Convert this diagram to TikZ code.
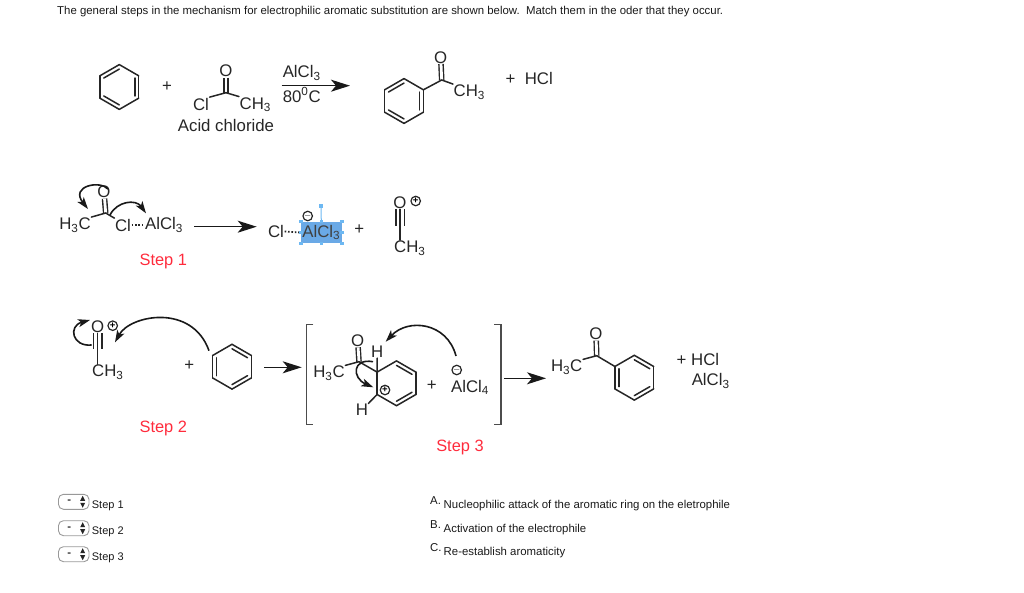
\documentclass[tikz,border=0pt]{standalone}
\usepackage{fontspec}
\setmainfont{Liberation Sans}
\usetikzlibrary{arrows.meta,calc}

\newcommand{\chemfont}{\fontsize{16.8}{18}\selectfont}
\newcommand{\smallfont}{\fontsize{11.4}{13}\selectfont}
\newcommand{\sbs}[1]{\textsubscript{#1}}
\definecolor{stepred}{HTML}{FF2B3C}
\definecolor{selblue}{HTML}{6AA9E6}
\definecolor{handleblue}{HTML}{6DB8F2}

\tikzset{
  bond/.style={line width=1.5pt, line cap=round, draw=black!85},
  dbl/.style={line width=1.4pt, draw=black!85, double=white, double distance=2.8pt},
  trpl/.style={line width=1.3pt, draw=black!85, double=white, double distance=7pt},
  rxn/.style={line width=1.5pt, draw=black!90, -{Stealth[length=19pt,width=12pt,inset=5pt]}},
  curly/.style={line width=1.6pt, draw=black!90, -{Stealth[length=12pt,width=8pt,inset=3pt]}},
  dots/.style={line width=1.8pt, draw=black!85, dash pattern=on 1.6pt off 1.8pt},
  atom/.style={inner sep=.5pt, font=\chemfont, text=black!85},
  charge/.style={circle, draw=black!85, line width=1.2pt, inner sep=0pt, minimum size=9.5pt, font=\fontsize{9.5}{9.5}\selectfont\bfseries},
  steplbl/.style={inner sep=0pt, font=\fontsize{16.4}{18}\selectfont, text=stepred},
  plain/.style={inner sep=0pt, anchor=west, font=\smallfont, text=black!90},
  handle/.style={fill=handleblue, minimum size=3.5pt, inner sep=0pt},
  selbox/.style={draw=black!40, line width=.9pt, rounded corners=5pt, minimum width=30.5pt, minimum height=15pt, inner sep=0pt},
}

% ring at a centre, the last argument lists the inner lines
\newcommand{\ringat}[3]{
  \coordinate (#1) at (#2);
  \foreach \a in {30,90,150,210,270,330} \coordinate (#1-\a) at ($(#1)+(\a:22.4)$);
  \foreach \a/\b in {30/90,90/150,150/210,210/270,270/330,330/30} \draw[bond] (#1-\a) -- (#1-\b);
  \foreach \a/\b in {#3} \draw[bond] ($(#1)!.8!(#1-\a)$) -- ($(#1)!.8!(#1-\b)$);
}

\begin{document}
\begin{tikzpicture}[x=1pt, y=-1pt]
\useasboundingbox (0,0) rectangle (1024,593);

\node[plain] (title) at (57,12) {The general steps in the mechanism for electrophilic aromatic substitution are shown below.\ \ Match them in the oder that they occur.};

% overall reaction
\ringat{bza}{119.3,87}{90/150,210/270,330/30}
\node[atom] (plusa) at (167,87) {+};
\coordinate (ca) at (226,92.7);
\node[atom] (oa) at (226,71) {O};
\node[atom] (cla) at (201,104) {Cl};
\node[atom, anchor=west] (mea) at (239,104.5) {CH\sbs{3}};
\draw[dbl] (oa) -- (ca);
\draw[bond] (cla.north east) -- (ca);
\draw[bond] (ca) -- (mea.north west);
\node[atom] (acid) at (226,125) {Acid chloride};
\node[atom] (cata) at (301.7,73) {AlCl\sbs{3}};
\node[atom] (temp) at (301.7,95) {80\textsuperscript{0}C};
\coordinate (ra1) at (281.7,85.7);
\coordinate (ra2) at (350,85.7);
\draw[rxn] (ra1) -- (ra2);
\ringat{bzb}{404,101}{90/150,210/270,330/30}
\coordinate (cb) at (441.7,80);
\node[atom] (ob) at (440.7,57.3) {O};
\node[atom, anchor=west] (meb) at (453,92) {CH\sbs{3}};
\draw[dbl] (ob) -- (cb);
\draw[bond] (bzb-330) -- (cb);
\draw[bond] (cb) -- (meb.north west);
\node[atom, anchor=west] (hcla) at (505,78) {+\ \ HCl};

% step 1
\coordinate (cc) at (105.7,213);
\node[atom] (oc) at (104,192) {O};
\node[atom] (mec) at (75,225) {H\sbs{3}C};
\node[atom] (clc) at (123,225) {Cl};
\node[atom] (alc) at (164,225) {AlCl\sbs{3}};
\draw[dbl] (oc) -- (cc);
\draw[bond] (mec.north east) -- (cc);
\draw[bond] (cc) -- (clc.north west);
\draw[dots] (clc) -- (alc);
\coordinate (c1s) at (108,189);
\coordinate (c1e) at (88,209);
\draw[curly] (c1s) .. controls (100,180) and (70,186) .. (c1e);
\coordinate (c2s) at (110,215);
\coordinate (c2e) at (146,213.3);
\draw[curly] (c2s) .. controls (117,201) and (136,199) .. (c2e);
\coordinate (rb1) at (194,226.7);
\coordinate (rb2) at (256.7,226.7);
\draw[rxn] (rb1) -- (rb2);
\node[fill=selblue, minimum width=40.7pt, minimum height=21.6pt, inner sep=0pt, font=\chemfont, text=black!75] (sel) at (321.3,232.5) {AlCl\sbs{3}};
\node[atom] (cld) at (276,231) {Cl};
\draw[dots] (cld) -- (sel.west);
\coordinate (hnd) at (321,206);
\draw[handleblue, line width=1pt] (sel.north) -- (hnd);
\foreach \p in {north west,north,north east,east,south east,south,south west,west} \node[handle] (h-\p) at (sel.\p) {};
\node[handle, minimum size=4.5pt] (htop) at (hnd) {};
\node[charge] (negd) at (307.7,216) {$-$};
\node[atom] (plusd) at (359.3,230) {+};
\node[atom] (oe) at (400,202.7) {O};
\node[charge] (pose) at (415.7,201) {+};
\node[atom, anchor=west] (mee) at (393.5,248) {CH\sbs{3}};
\coordinate (ce) at (400,226);
\draw[trpl] (oe) -- (ce);
\draw[bond] (oe) -- (ce);
\draw[bond] (ce) -- (mee.north west -| ce);
\node[steplbl] (step1) at (163.3,261) {Step 1};

% step 2
\node[atom] (of) at (97.7,326.7) {O};
\node[charge] (posf) at (112.7,325.7) {+};
\node[atom, anchor=west] (mef) at (91.5,372.3) {CH\sbs{3}};
\coordinate (cf) at (97.7,349);
\draw[trpl] (of) -- (cf);
\draw[bond] (of) -- (cf);
\draw[bond] (cf) -- (mef.north west -| cf);
\coordinate (c3s) at (91.7,345);
\coordinate (c3e) at (90,320);
\draw[curly] (c3s) .. controls (72,347) and (68,326) .. (c3e);
\node[atom] (plusf) at (189.3,365.7) {+};
\ringat{bzg}{232,366.7}{30/90,150/210,270/330}
\coordinate (c4s) at (209,350.7);
\coordinate (c4e) at (115,342.3);
\draw[curly] (c4s) .. controls (192,303) and (130,315) .. (c4e);
\coordinate (rc1) at (264,367.3);
\coordinate (rc2) at (301.7,367.3);
\draw[rxn] (rc1) -- (rc2);
\node[steplbl] (step2) at (163.3,428) {Step 2};

% intermediate
\draw[line width=1.4pt, draw=black!70] (313.3,324.3) -- (306.7,324.3) -- (306.7,424.3) -- (313.3,424.3);
\draw[line width=1.4pt, draw=black!70] (494.3,324.3) -- (501,324.3) -- (501,424.3) -- (494.3,424.3);
\ringat{bzi}{396.5,383.3}{270/330,30/90}
\coordinate (ci) at (359,361.7);
\node[atom] (oi) at (357.7,340.7) {O};
\node[atom] (mei) at (329,373.3) {H\sbs{3}C};
\node[atom] (hi) at (377.3,351.7) {H};
\node[atom] (hj) at (362,410) {H};
\draw[dbl] (oi) -- (ci);
\draw[bond] (mei.north east) -- (ci);
\draw[bond] (ci) -- (bzi-210);
\draw[bond] (hi) -- (bzi-210);
\draw[bond] (hj) -- (bzi-150);
\node[charge] (posi) at (385,390) {+};
\node[atom] (plusi) at (431.7,386) {+};
\node[atom] (ali) at (470,387.3) {AlCl\sbs{4}};
\node[charge] (negi) at (456.7,370) {$-$};
\coordinate (c5s) at (456,356);
\coordinate (c5e) at (385.7,341.7);
\draw[curly] (c5s) .. controls (447,322) and (408,318) .. (c5e);
\coordinate (c6s) at (373,361.7);
\coordinate (c6e) at (373.3,387.3);
\draw[curly] (c6s) .. controls (352,358) and (352,378) .. (c6e);
\coordinate (rd1) at (504,378.3);
\coordinate (rd2) at (546,378.3);
\draw[rxn] (rd1) -- (rd2);
\node[steplbl] (step3) at (460,447.5) {Step 3};

% product
\ringat{bzk}{634.3,377.7}{30/90,150/210,270/330}
\coordinate (ck) at (596.7,355.7);
\node[atom] (ok) at (596,334) {O};
\node[atom] (mek) at (566.7,367.3) {H\sbs{3}C};
\draw[dbl] (ok) -- (ck);
\draw[bond] (mek.north east) -- (ck);
\draw[bond] (ck) -- (bzk-210);
\node[atom, anchor=west] (hclk) at (676,359) {+ HCl};
\node[atom] (alk) at (710.7,380.7) {AlCl\sbs{3}};

% answer boxes
\foreach \n/\y/\t in {1/501.8/506,2/528.2/532,3/554.2/558}{
  \node[selbox] (box\n) at (73.7,\y) {};
  \node[inner sep=0pt, font=\smallfont\bfseries, text=black!80] (dash\n) at (69.3,\y) {-};
  \fill[black!85] (80.2,\y-1) -- (85.2,\y-1) -- (82.7,\y-6) -- cycle;
  \fill[black!85] (80.2,\y+1) -- (85.2,\y+1) -- (82.7,\y+6) -- cycle;
  \node[plain, font=\fontsize{11}{13}\selectfont] (lbl\n) at (91.7,\t) {Step \n};
}

% answers
\node[plain] (ansa) at (430,501) {A.};
\node[plain] (txta) at (443.5,506) {Nucleophilic attack of the aromatic ring on the eletrophile};
\node[plain] (ansb) at (430,524.5) {B.};
\node[plain] (txtb) at (443.5,529.5) {Activation of the electrophile};
\node[plain] (ansc) at (430,548) {C.};
\node[plain] (txtc) at (443.5,553) {Re-establish aromaticity};
\end{tikzpicture}
\end{document}
